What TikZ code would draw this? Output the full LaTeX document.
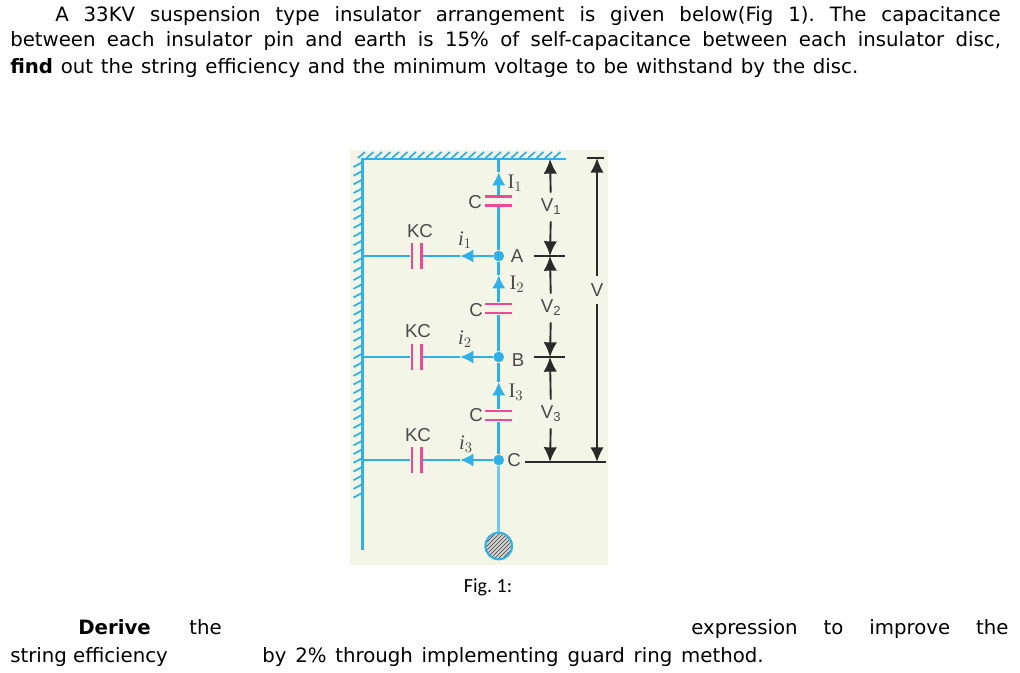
\documentclass[tikz,border=0pt]{standalone}
\usepackage{fontspec}
\setmainfont{DejaVu Sans}
\newfontfamily\figfont{Liberation Sans}
\newfontfamily\curfont{Liberation Serif}
\newfontfamily\capfont{Carlito}
\usetikzlibrary{arrows.meta, patterns}
\definecolor{panelbg}{HTML}{F3F6E6}
\definecolor{wireblue}{HTML}{2FB0E8}
\definecolor{tailblue}{HTML}{74C6EE}
\definecolor{platepink}{HTML}{EC4A96}
\definecolor{dimgray}{HTML}{2A2A2A}
\frenchspacing

\begin{document}
\begin{tikzpicture}[
    x=0.75pt, y=-0.75pt,
    wire/.style={wireblue, line width=1.9pt},
    wiretip/.style={wire, -{Latex[length=10pt, width=10pt]}},
    hatchline/.style={wireblue, line width=1.3pt},
    dimline/.style={dimgray, line width=1.4pt},
    dimtip/.style={dimline, -{Latex[length=11pt, width=10pt]}},
    junction/.style={circle, fill=wireblue, inner sep=0pt, minimum size=8pt},
    hplate/.style={fill=platepink, inner sep=0pt, minimum width=20pt, minimum height=2.2pt},
    vplate/.style={fill=platepink, inner sep=0pt, minimum width=2.2pt, minimum height=19pt},
    para/.style={anchor=base west, inner sep=0pt, font=\fontsize{14.8}{16}\selectfont},
    figlabel/.style={inner sep=0pt, dimgray!85, font=\figfont\fontsize{14}{15}\selectfont},
    curlabel/.style={inner sep=0pt, dimgray!85, font=\curfont\fontsize{15.5}{16}\selectfont},
    vlabel/.style={inner sep=0pt, minimum height=21pt, dimgray!85, font=\figfont\fontsize{14}{15}\selectfont}
]
    \useasboundingbox (0,0) rectangle (1020,673);

    % question text
    \node[para] (line1) at (55,21.5) {\makebox[709pt][s]{A 33KV suspension type insulator arrangement is given below(Fig 1). The capacitance}};
    \node[para] (line2) at (10,46.5) {\makebox[743pt][s]{between each insulator pin and earth is 15\% of self-capacitance between each insulator disc,}};
    \node[para] (line3) at (10,74) {\makebox[636pt][s]{\textbf{find} out the string efficiency and the minimum voltage to be withstand by the disc.}};
    \node[para] (derive) at (78,634) {\textbf{Derive}};
    \node[para] (the) at (189,634) {the};
    \node[para] (expr) at (691,634) {\makebox[238pt][s]{expression to improve the}};
    \node[para] (string) at (10,662) {string efficiency};
    \node[para] (byline) at (262,662) {\makebox[376pt][s]{by 2\% through implementing guard ring method.}};

    % figure panel
    \fill[panelbg] (350,150) rectangle (608,565);
    \node[inner sep=0pt, font=\capfont\fontsize{15}{16}\selectfont] (figcap) at (488,587) {Fig. 1:};

    % earthed walls
    \coordinate (corner) at (362.7,159);
    \coordinate (topend) at (566,159);
    \coordinate (leftend) at (362.7,550);
    \draw[wire] (topend) -- (corner) -- (leftend);
    \foreach \hx in {358,366.5,...,560} \draw[hatchline] (\hx,158) -- (\hx+7,152);
    \foreach \hy in {162,170.7,...,495} \draw[hatchline] (362.7,\hy) -- (353.5,\hy+5);

    % string of discs
    \coordinate (Wtop) at (498.7,159);
    \node[junction] (A) at (498.7,256) {};
    \node[junction] (B) at (498.7,357) {};
    \node[junction] (C) at (498.7,460) {};
    \node[circle, draw=wireblue, line width=1.5pt, preaction={fill=gray!35}, pattern=north east lines, pattern color=black!75, minimum size=20pt, inner sep=0pt] (ball) at (498.7,546) {};

    \node[hplate] (c1a) at (498.7,196.7) {};
    \node[hplate] (c1b) at (498.7,205.7) {};
    \node[hplate] (c2a) at (498.7,304) {};
    \node[hplate] (c2b) at (498.7,313) {};
    \node[hplate] (c3a) at (498.7,411) {};
    \node[hplate] (c3b) at (498.7,420) {};

    \coordinate (t1) at (498.7,172);
    \coordinate (t2) at (498.7,275);
    \coordinate (t3) at (498.7,382);

    \draw[wire] (Wtop) -- (t1);
    \draw[wiretip] (c1a) -- (t1);
    \draw[wire] (c1b) -- (A);
    \draw[wire] (A) -- (t2);
    \draw[wiretip] (c2a) -- (t2);
    \draw[wire] (c2b) -- (B);
    \draw[wire] (B) -- (t3);
    \draw[wiretip] (c3a) -- (t3);
    \draw[wire] (c3b) -- (C);
    \draw[tailblue, line width=1.9pt] (C) -- (ball);

    % KC branches
    \coordinate (wA) at (362.7,256);
    \coordinate (wB) at (362.7,357);
    \coordinate (wC) at (362.7,460);
    \node[vplate] (k1a) at (412,256) {};
    \node[vplate] (k1b) at (421.7,256) {};
    \node[vplate] (k2a) at (412,357) {};
    \node[vplate] (k2b) at (421.7,357) {};
    \node[vplate] (k3a) at (412,460) {};
    \node[vplate] (k3b) at (421.7,460) {};
    \coordinate (s1) at (460,256);
    \coordinate (s2) at (460,357);
    \coordinate (s3) at (460,460);

    \draw[wire] (wA) -- (k1a);
    \draw[wire] (k1b) -- (s1);
    \draw[wiretip] (A) -- (s1);
    \draw[wire] (wB) -- (k2a);
    \draw[wire] (k2b) -- (s2);
    \draw[wiretip] (B) -- (s2);
    \draw[wire] (wC) -- (k3a);
    \draw[wire] (k3b) -- (s3);
    \draw[wiretip] (C) -- (s3);

    % labels
    \node[figlabel] (lA) at (517,256) {A};
    \node[figlabel] (lB) at (518,360) {B};
    \node[figlabel] (lC) at (514,460) {C};
    \node[figlabel] (lc1) at (475,202) {C};
    \node[figlabel] (lc2) at (476,310) {C};
    \node[figlabel] (lc3) at (476,415) {C};
    \node[figlabel] (lk1) at (420,231) {KC};
    \node[figlabel] (lk2) at (418,331) {KC};
    \node[figlabel] (lk3) at (418,435) {KC};
    \node[curlabel] (lI1) at (515,183) {I$_1$};
    \node[curlabel] (lI2) at (517,284) {I$_2$};
    \node[curlabel] (lI3) at (516,392) {I$_3$};
    \node[curlabel] (li1) at (465,240) {\textit{i}$_1$};
    \node[curlabel] (li2) at (465,339) {\textit{i}$_2$};
    \node[curlabel] (li3) at (466,444) {\textit{i}$_3$};

    % voltage dimensions
    \coordinate (Ttop) at (550,159);
    \coordinate (TA) at (550,256);
    \coordinate (TB) at (550,357);
    \coordinate (TC) at (550,462);
    \coordinate (Vtop) at (597,158);
    \coordinate (Vbot) at (597,462);
    \node[vlabel] (V1) at (551,207) {V\textsubscript{1}};
    \node[vlabel] (V2) at (551,308) {V\textsubscript{2}};
    \node[vlabel] (V3) at (551,414) {V\textsubscript{3}};
    \node[vlabel] (Vall) at (597,290) {V};

    \draw[dimline] (534,256) -- (565,256);
    \draw[dimline] (534,357) -- (565,357);
    \draw[dimline] (525,462) -- (606,462);
    \draw[dimline] (587,158) -- (604,158);
    \draw[dimtip] (V1) -- (Ttop);
    \draw[dimtip] (V1) -- (TA);
    \draw[dimtip] (V2) -- (TA);
    \draw[dimtip] (V2) -- (TB);
    \draw[dimtip] (V3) -- (TB);
    \draw[dimtip] (V3) -- (TC);
    \draw[dimtip] (Vall) -- (Vtop);
    \draw[dimtip] (Vall) -- (Vbot);
\end{tikzpicture}
\end{document}
